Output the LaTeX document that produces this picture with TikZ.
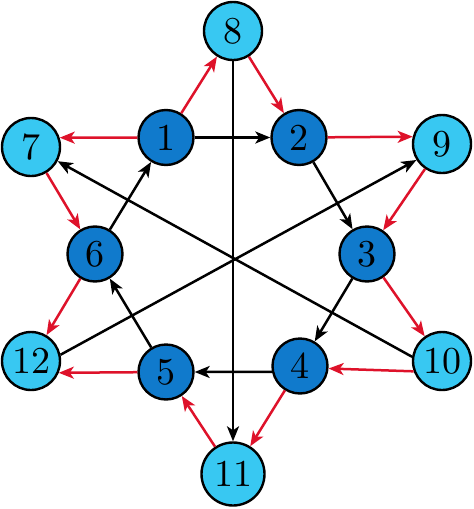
\documentclass[tikz,border=0pt]{standalone}
\usetikzlibrary{arrows.meta}
\definecolor{outerc}{RGB}{56,200,242}
\definecolor{innerc}{RGB}{16,122,204}
\definecolor{redc}{RGB}{222,18,42}
\newcommand{\bigdigit}[1]{\scalebox{1.9}{#1}}
\begin{document}
\begin{tikzpicture}[x=0.5pt,y=-0.5pt,
  basenode/.style={circle,draw=black,line width=1.2pt,inner sep=0pt,font=\fontsize{10}{12}\selectfont},
  innode/.style={basenode,fill=innerc,minimum size=27.5pt},
  outnode/.style={basenode,fill=outerc,minimum size=29pt},
  blk/.style={draw=black,line width=1.25pt,-{Stealth[length=7.5pt,width=6pt,inset=2pt]}},
  rd/.style={draw=redc,line width=1.25pt,-{Stealth[length=7.5pt,width=6pt,inset=2pt]}}]
\useasboundingbox (0,0) rectangle (474,509);
\node[outnode] (n8) at (233,31) {\bigdigit{8}};
\node[outnode] (n7) at (31,147) {\bigdigit{7}};
\node[innode] (n1) at (166,137.5) {\bigdigit{1}};
\node[innode] (n2) at (299,137.5) {\bigdigit{2}};
\node[outnode] (n9) at (442,144) {\bigdigit{9}};
\node[innode] (n6) at (95,254) {\bigdigit{6}};
\node[innode] (n3) at (367,254) {\bigdigit{3}};
\node[outnode] (n12) at (31,361) {\bigdigit{12}};
\node[innode] (n5) at (166,372) {\bigdigit{5}};
\node[innode] (n4) at (300,366) {\bigdigit{4}};
\node[outnode] (n10) at (442,361) {\bigdigit{10}};
\node[outnode,minimum size=31.5pt] (n11) at (233,474) {\bigdigit{11}};
% black
\draw[blk] (n1) -- (n2);
\draw[blk] (n2) -- (n3);
\draw[blk] (n3) -- (n4);
\draw[blk] (n4.192) -- (n5);
\draw[blk] (n5) -- (n6);
\draw[blk] (n6) -- (n1);
\draw[blk] (n8) -- (n11);
\draw[blk] (n10.172) -- (n7.332);
\draw[blk] (n12.12) -- (n9.212);
% red
\draw[rd] (n1) -- (n7.18);
\draw[rd] (n1) -- (n8);
\draw[rd] (n8) -- (n2);
\draw[rd] (n2) -- (n9.166);
\draw[rd] (n9) -- (n3);
\draw[rd] (n3) -- (n10);
\draw[rd] (n10.200) -- (n4.-5);
\draw[rd] (n4) -- (n11);
\draw[rd] (n11) -- (n5);
\draw[rd] (n5) -- (n12.337);
\draw[rd] (n6) -- (n12);
\draw[rd] (n7) -- (n6);
\end{tikzpicture}
\end{document}
